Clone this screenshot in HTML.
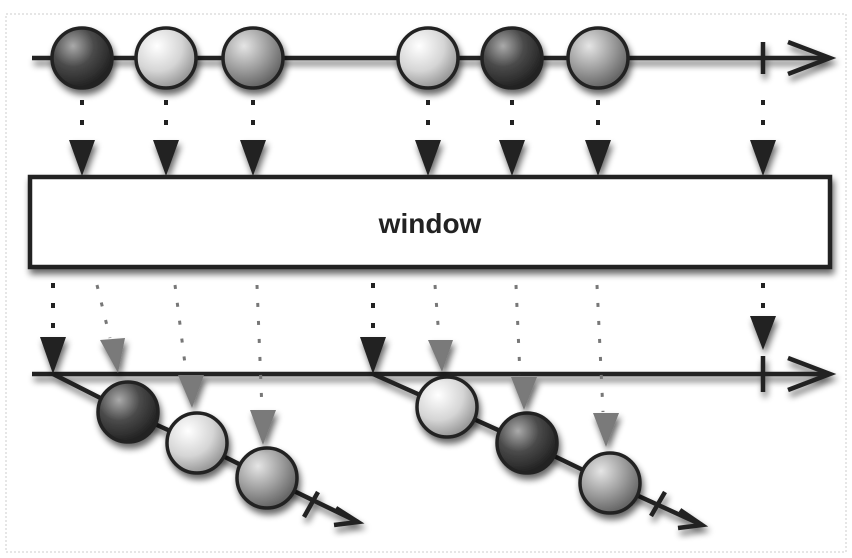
<!DOCTYPE html>
<html><head><style>body{margin:0;background:#fff}svg{display:block}</style></head><body>
<svg width="852" height="558" viewBox="0 0 852 558" xmlns="http://www.w3.org/2000/svg">
<defs>
<radialGradient id="dk" cx="0.35" cy="0.3" r="0.7"><stop offset="0" stop-color="#aaa"/><stop offset="0.5" stop-color="#4a4a4a"/><stop offset="1" stop-color="#222"/></radialGradient>
<radialGradient id="lt" cx="0.35" cy="0.3" r="0.7"><stop offset="0" stop-color="#fff"/><stop offset="0.6" stop-color="#d5d5d5"/><stop offset="1" stop-color="#999"/></radialGradient>
<radialGradient id="md" cx="0.35" cy="0.3" r="0.7"><stop offset="0" stop-color="#e5e5e5"/><stop offset="0.6" stop-color="#9a9a9a"/><stop offset="1" stop-color="#666"/></radialGradient>
<filter id="sh" x="-20%" y="-20%" width="140%" height="160%"><feGaussianBlur in="SourceAlpha" stdDeviation="3.5"/><feOffset dx="2" dy="5"/><feComponentTransfer><feFuncA type="linear" slope="0.6"/></feComponentTransfer><feMerge><feMergeNode/><feMergeNode in="SourceGraphic"/></feMerge></filter>
</defs>
<rect x="6" y="14" width="840" height="538" fill="none" stroke="#ccc" stroke-dasharray="2,2"/>
<g filter="url(#sh)" stroke="#222" stroke-width="4.5" fill="none">
<line x1="32" y1="58" x2="830" y2="58"/><polyline points="788,42 830,58 788,74"/><line x1="763" y1="42" x2="763" y2="74"/>
<line x1="32" y1="374" x2="830" y2="374"/><polyline points="788,358 830,374 788,390"/><line x1="763" y1="356" x2="763" y2="392"/>
<polyline points="53,374 128,412 197,443 267,478 358,522"/><polyline points="336,508 358,522 334,525"/><line x1="304" y1="517" x2="318" y2="492"/>
<polyline points="373,374 447,407 527,443 610,483 702,525"/><polyline points="680,510 702,525 678,528"/><line x1="651" y1="516" x2="665" y2="492"/>
</g>
<g stroke="#222" stroke-width="3.5" filter="url(#sh)">
<circle cx="82" cy="58" r="30" fill="url(#dk)"/><circle cx="166" cy="58" r="30" fill="url(#lt)"/><circle cx="253" cy="58" r="30" fill="url(#md)"/>
<circle cx="428" cy="58" r="30" fill="url(#lt)"/><circle cx="512" cy="58" r="30" fill="url(#dk)"/><circle cx="598" cy="58" r="30" fill="url(#md)"/>
<circle cx="128" cy="412" r="30" fill="url(#dk)"/><circle cx="197" cy="443" r="30" fill="url(#lt)"/><circle cx="267" cy="478" r="30" fill="url(#md)"/>
<circle cx="447" cy="407" r="30" fill="url(#lt)"/><circle cx="527" cy="443" r="30" fill="url(#dk)"/><circle cx="610" cy="483" r="30" fill="url(#md)"/>
</g>
<g fill="#222" stroke="#222" stroke-width="4" stroke-dasharray="5,15">
<line x1="82" y1="100" x2="82" y2="140"/><line x1="166" y1="100" x2="166" y2="140"/><line x1="253" y1="100" x2="253" y2="140"/><line x1="428" y1="100" x2="428" y2="140"/><line x1="512" y1="100" x2="512" y2="140"/><line x1="598" y1="100" x2="598" y2="140"/><line x1="763" y1="100" x2="763" y2="140"/>
<line x1="53" y1="283" x2="53" y2="338"/><line x1="373" y1="283" x2="373" y2="338"/><line x1="763" y1="283" x2="763" y2="318"/>
</g>
<g fill="#222" filter="url(#sh)">
<polygon points="69,140 95,140 82,176"/><polygon points="153,140 179,140 166,176"/><polygon points="240,140 266,140 253,176"/><polygon points="415,140 441,140 428,176"/><polygon points="499,140 525,140 512,176"/><polygon points="585,140 611,140 598,176"/><polygon points="750,140 776,140 763,176"/>
<polygon points="40,337 66,337 53,374"/><polygon points="360,337 386,337 373,374"/><polygon points="750,316 776,316 763,350"/>
</g>
<g stroke="#777" stroke-width="3" stroke-dasharray="4,14" fill="none">
<line x1="97" y1="285" x2="110" y2="338"/><line x1="175" y1="285" x2="186" y2="372"/><line x1="257" y1="285" x2="262" y2="410"/>
<line x1="435" y1="285" x2="439" y2="338"/><line x1="516" y1="285" x2="520" y2="375"/><line x1="597" y1="285" x2="603" y2="412"/>
</g>
<g fill="#7a7a7a" filter="url(#sh)">
<polygon points="100,340 125,338 118,373"/><polygon points="178,375 204,375 192,408"/><polygon points="250,410 276,410 263,445"/>
<polygon points="428,340 453,340 442,372"/><polygon points="511,377 537,377 524,410"/><polygon points="593,413 619,413 606,447"/>
</g>
<rect x="30" y="177" width="800" height="90" fill="#fff" stroke="#222" stroke-width="4.5" filter="url(#sh)"/>
<text x="430" y="233" text-anchor="middle" font-family="Liberation Sans, sans-serif" font-weight="bold" font-size="28" fill="#222">window</text>
</svg>
</body></html>
